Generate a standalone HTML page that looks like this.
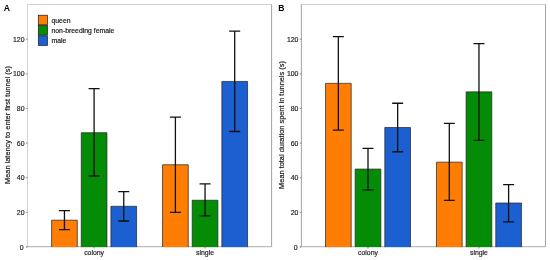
<!DOCTYPE html>
<html><head><meta charset="utf-8"><title>Figure</title>
<style>
html,body{margin:0;padding:0;background:#fff;}
body{width:550px;height:260px;overflow:hidden;}
svg text{font-family:"Liberation Sans",sans-serif;fill:#222;stroke:#222;stroke-width:0.18px;}
.t{font-size:6.9px;}
.yt{font-size:7.4px;fill:#111;}
.lg{font-size:6.85px;fill:#111;}
.lab{font-size:8.6px;font-weight:bold;fill:#000;stroke:none;}
</style></head><body>
<svg width="550" height="260" viewBox="0 0 550 260" style="display:block">
<rect width="550" height="260" fill="#fff"/>
<path d="M27.5 247.0V4.5H271.6" fill="none" stroke="#ccc" stroke-width="0.9"/>
<path d="M27.5 4.5H271.6" fill="none" stroke="#d2d2d2" stroke-width="0.9"/>
<path d="M271.6 4.5V247.0" fill="none" stroke="#999" stroke-width="0.9"/>
<path d="M25.9 246.65H271.6" stroke="#bcbcbc" stroke-width="1.3"/>
<rect x="51.60" y="220.16" width="25.7" height="26.94" fill="#FF7D03"/>
<path d="M51.60 247.1V220.16h25.7V247.1" fill="none" stroke="#222" stroke-width="0.7"/>
<path d="M64.45 210.63V229.68M58.95 210.63h11.0M58.95 229.68h11.0" stroke="#111" stroke-width="1.3" fill="none"/>
<rect x="81.25" y="132.71" width="25.7" height="114.39" fill="#058C06"/>
<path d="M81.25 247.1V132.71h25.7V247.1" fill="none" stroke="#222" stroke-width="0.7"/>
<path d="M94.10 88.55V176.00M88.60 88.55h11.0M88.60 176.00h11.0" stroke="#111" stroke-width="1.3" fill="none"/>
<rect x="110.90" y="206.31" width="25.7" height="40.79" fill="#1B5FD1"/>
<path d="M110.90 247.1V206.31h25.7V247.1" fill="none" stroke="#222" stroke-width="0.7"/>
<path d="M123.75 191.59V221.02M118.25 191.59h11.0M118.25 221.02h11.0" stroke="#111" stroke-width="1.3" fill="none"/>
<rect x="162.55" y="164.74" width="25.7" height="82.36" fill="#FF7D03"/>
<path d="M162.55 247.1V164.74h25.7V247.1" fill="none" stroke="#222" stroke-width="0.7"/>
<path d="M175.40 117.12V212.37M169.90 117.12h11.0M169.90 212.37h11.0" stroke="#111" stroke-width="1.3" fill="none"/>
<rect x="192.20" y="200.24" width="25.7" height="46.86" fill="#058C06"/>
<path d="M192.20 247.1V200.24h25.7V247.1" fill="none" stroke="#222" stroke-width="0.7"/>
<path d="M205.05 183.79V215.83M199.55 183.79h11.0M199.55 215.83h11.0" stroke="#111" stroke-width="1.3" fill="none"/>
<rect x="221.85" y="81.45" width="25.7" height="165.65" fill="#1B5FD1"/>
<path d="M221.85 247.1V81.45h25.7V247.1" fill="none" stroke="#222" stroke-width="0.7"/>
<path d="M234.70 31.06V131.50M229.20 31.06h11.0M229.20 131.50h11.0" stroke="#111" stroke-width="1.3" fill="none"/>
<path d="M25.9 247.00h1.6" stroke="#444" stroke-width="0.6"/>
<text x="23.7" y="249.50" text-anchor="end" class="t">0</text>
<path d="M25.9 212.37h1.6" stroke="#444" stroke-width="0.6"/>
<text x="24.5" y="214.87" text-anchor="end" class="t">20</text>
<path d="M25.9 177.73h1.6" stroke="#444" stroke-width="0.6"/>
<text x="24.5" y="180.23" text-anchor="end" class="t">40</text>
<path d="M25.9 143.10h1.6" stroke="#444" stroke-width="0.6"/>
<text x="24.5" y="145.60" text-anchor="end" class="t">60</text>
<path d="M25.9 108.46h1.6" stroke="#444" stroke-width="0.6"/>
<text x="24.5" y="110.96" text-anchor="end" class="t">80</text>
<path d="M25.9 73.83h1.6" stroke="#444" stroke-width="0.6"/>
<text x="24.5" y="76.33" text-anchor="end" class="t">100</text>
<path d="M25.9 39.20h1.6" stroke="#444" stroke-width="0.6"/>
<text x="24.5" y="41.70" text-anchor="end" class="t">120</text>
<path d="M94.1 247.0v1.6" stroke="#444" stroke-width="0.6"/>
<text x="94.1" y="255.4" text-anchor="middle" class="t">colony</text>
<path d="M205.05 247.0v1.6" stroke="#444" stroke-width="0.6"/>
<text x="205.05" y="255.4" text-anchor="middle" class="t">single</text>
<text transform="translate(9.600000000000001,125.0) rotate(-90)" text-anchor="middle" class="yt">Mean latency to enter first tunnel (s)</text>
<text x="3.7" y="10.75" class="lab">A</text>
<path d="M301.4 247.0V4.5H545.5" fill="none" stroke="#999" stroke-width="0.9"/>
<path d="M301.4 4.5H545.5" fill="none" stroke="#d2d2d2" stroke-width="0.9"/>
<path d="M545.5 4.5V247.0" fill="none" stroke="#999" stroke-width="0.9"/>
<path d="M299.79999999999995 246.65H545.5" stroke="#bcbcbc" stroke-width="1.3"/>
<rect x="325.50" y="83.35" width="25.7" height="163.75" fill="#FF7D03"/>
<path d="M325.50 247.1V83.35h25.7V247.1" fill="none" stroke="#222" stroke-width="0.7"/>
<path d="M338.35 36.60V130.11M332.85 36.60h11.0M332.85 130.11h11.0" stroke="#111" stroke-width="1.3" fill="none"/>
<rect x="355.15" y="169.07" width="25.7" height="78.03" fill="#058C06"/>
<path d="M355.15 247.1V169.07h25.7V247.1" fill="none" stroke="#222" stroke-width="0.7"/>
<path d="M368.00 148.29V189.85M362.50 148.29h11.0M362.50 189.85h11.0" stroke="#111" stroke-width="1.3" fill="none"/>
<rect x="384.80" y="127.51" width="25.7" height="119.59" fill="#1B5FD1"/>
<path d="M384.80 247.1V127.51h25.7V247.1" fill="none" stroke="#222" stroke-width="0.7"/>
<path d="M397.65 103.27V151.76M392.15 103.27h11.0M392.15 151.76h11.0" stroke="#111" stroke-width="1.3" fill="none"/>
<rect x="436.46" y="162.15" width="25.7" height="84.95" fill="#FF7D03"/>
<path d="M436.46 247.1V162.15h25.7V247.1" fill="none" stroke="#222" stroke-width="0.7"/>
<path d="M449.31 123.36V200.42M443.81 123.36h11.0M443.81 200.42h11.0" stroke="#111" stroke-width="1.3" fill="none"/>
<rect x="466.11" y="91.84" width="25.7" height="155.26" fill="#058C06"/>
<path d="M466.11 247.1V91.84h25.7V247.1" fill="none" stroke="#222" stroke-width="0.7"/>
<path d="M478.96 43.53V140.33M473.46 43.53h11.0M473.46 140.33h11.0" stroke="#111" stroke-width="1.3" fill="none"/>
<rect x="495.76" y="203.01" width="25.7" height="44.09" fill="#1B5FD1"/>
<path d="M495.76 247.1V203.01h25.7V247.1" fill="none" stroke="#222" stroke-width="0.7"/>
<path d="M508.61 184.66V221.89M503.11 184.66h11.0M503.11 221.89h11.0" stroke="#111" stroke-width="1.3" fill="none"/>
<path d="M299.79999999999995 247.00h1.6" stroke="#444" stroke-width="0.6"/>
<text x="297.59999999999997" y="249.50" text-anchor="end" class="t">0</text>
<path d="M299.79999999999995 212.37h1.6" stroke="#444" stroke-width="0.6"/>
<text x="298.4" y="214.87" text-anchor="end" class="t">20</text>
<path d="M299.79999999999995 177.73h1.6" stroke="#444" stroke-width="0.6"/>
<text x="298.4" y="180.23" text-anchor="end" class="t">40</text>
<path d="M299.79999999999995 143.10h1.6" stroke="#444" stroke-width="0.6"/>
<text x="298.4" y="145.60" text-anchor="end" class="t">60</text>
<path d="M299.79999999999995 108.46h1.6" stroke="#444" stroke-width="0.6"/>
<text x="298.4" y="110.96" text-anchor="end" class="t">80</text>
<path d="M299.79999999999995 73.83h1.6" stroke="#444" stroke-width="0.6"/>
<text x="298.4" y="76.33" text-anchor="end" class="t">100</text>
<path d="M299.79999999999995 39.20h1.6" stroke="#444" stroke-width="0.6"/>
<text x="298.4" y="41.70" text-anchor="end" class="t">120</text>
<path d="M368.0 247.0v1.6" stroke="#444" stroke-width="0.6"/>
<text x="368.0" y="255.4" text-anchor="middle" class="t">colony</text>
<path d="M478.96 247.0v1.6" stroke="#444" stroke-width="0.6"/>
<text x="478.96" y="255.4" text-anchor="middle" class="t">single</text>
<text transform="translate(283.5,125.0) rotate(-90)" text-anchor="middle" class="yt">Mean total duration spent in tunnels (s)</text>
<text x="278.2" y="10.75" class="lab">B</text>
<rect x="38.3" y="15.2" width="9.2" height="9.6" fill="#FF7D03" stroke="#1a1a1a" stroke-width="0.7"/>
<text x="51.5" y="22.5" class="lg">queen</text>
<rect x="38.3" y="25.5" width="9.2" height="9.6" fill="#058C06" stroke="#1a1a1a" stroke-width="0.7"/>
<text x="51.5" y="32.8" class="lg">non-breeding female</text>
<rect x="38.3" y="35.8" width="9.2" height="9.6" fill="#1B5FD1" stroke="#1a1a1a" stroke-width="0.7"/>
<text x="51.5" y="43.1" class="lg">male</text>
</svg>
</body></html>
